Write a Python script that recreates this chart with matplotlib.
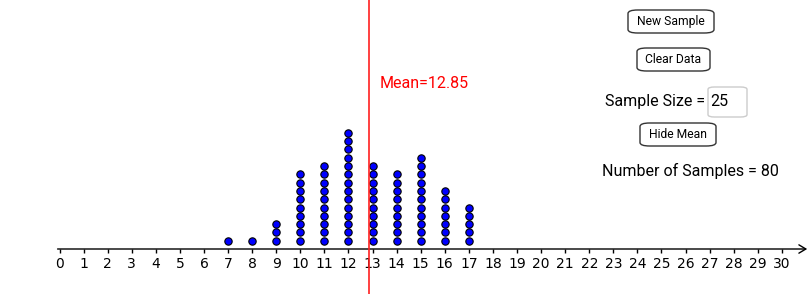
import matplotlib.pyplot as plt
from matplotlib.patches import FancyBboxPatch

## Dot plot data: value -> number of samples stacked there
values = [7, 8, 9, 10, 11, 12, 13, 14, 15, 16, 17]
counts = [1, 1, 3, 9, 10, 14, 10, 9, 11, 7, 5]
tick_values = list(range(0, 31))
mean_value = 12.85
sample_size = 25
n_samples = 80

W, H = 809, 294
fig = plt.figure(figsize=(W / 100, H / 100), dpi=100)
ax = fig.add_axes([0, 0, 1, 1])

px_per_unit = 24.08
ax.set_xlim(-59.5 / px_per_unit, (W - 59.5) / px_per_unit)
ax.set_ylim(-45 / 8.3, 249 / 8.3)

## Stacked dots
xs, ys = [], []
for v, c in zip(values, counts):
    for k in range(1, c + 1):
        xs.append(v)
        ys.append(k)
ax.scatter(xs, ys, s=28, c='#0000ff', edgecolors='black', linewidths=0.8, zorder=3)

## Axis line with open arrow head
for side in ['top', 'left', 'right', 'bottom']:
    ax.spines[side].set_visible(False)
ax.annotate('', xy=(31.05, 0), xytext=(-0.08, 0),
            arrowprops=dict(arrowstyle='->,head_length=0.5,head_width=0.3', lw=1,
                            color='black', shrinkA=0, shrinkB=0))
ax.set_xticks(tick_values)
ax.set_xticklabels([str(t) for t in tick_values], fontfamily='Roboto', fontsize=8.5)
ax.tick_params(axis='x', direction='out', length=3, width=1, pad=3)
ax.set_yticks([])
# put the ticks on the arrow line
ax.spines['bottom'].set_position(('data', 0))

## Mean line and label
ax.axvline(mean_value, color='#ff2020', lw=1.2, zorder=4)
fig.text(380 / W, 1 - 83 / H, 'Mean=%.2f' % mean_value, color='red',
         fontfamily='Roboto', fontsize=11.5, va='center', ha='left')

## Control panel (buttons and labels)
def button(x0, y0, x1, y1, label):
    box = FancyBboxPatch((x0 / W, 1 - y1 / H), (x1 - x0) / W, (y1 - y0) / H,
                         boxstyle='round,pad=0,rounding_size=0.012',
                         transform=fig.transFigure, fc='white', ec='#333333', lw=1)
    fig.add_artist(box)
    fig.text((x0 + x1) / 2 / W, 1 - (y0 + y1) / 2 / H, label, fontfamily='Roboto',
             fontsize=8.7, ha='center', va='center')

button(628, 10, 714, 33, 'New Sample')
button(637, 48, 710, 71, 'Clear Data')
button(640, 123, 716, 146, 'Hide Mean')

fig.text(605 / W, 1 - 102 / H, 'Sample Size =', fontfamily='Roboto', fontsize=11.5,
         ha='left', va='center')
inp = FancyBboxPatch((708 / W, 1 - 117 / H), 39 / W, 30 / H,
                     boxstyle='round,pad=0,rounding_size=0.008',
                     transform=fig.transFigure, fc='white', ec='#cccccc', lw=1)
fig.add_artist(inp)
fig.text(710 / W, 1 - 102 / H, str(sample_size), fontfamily='Roboto', fontsize=11.5,
         ha='left', va='center')

fig.text(602 / W, 1 - 171 / H, 'Number of Samples = %d' % n_samples, fontfamily='Roboto',
         fontsize=11.5, ha='left', va='center')

plt.savefig('out.png', dpi=100)
